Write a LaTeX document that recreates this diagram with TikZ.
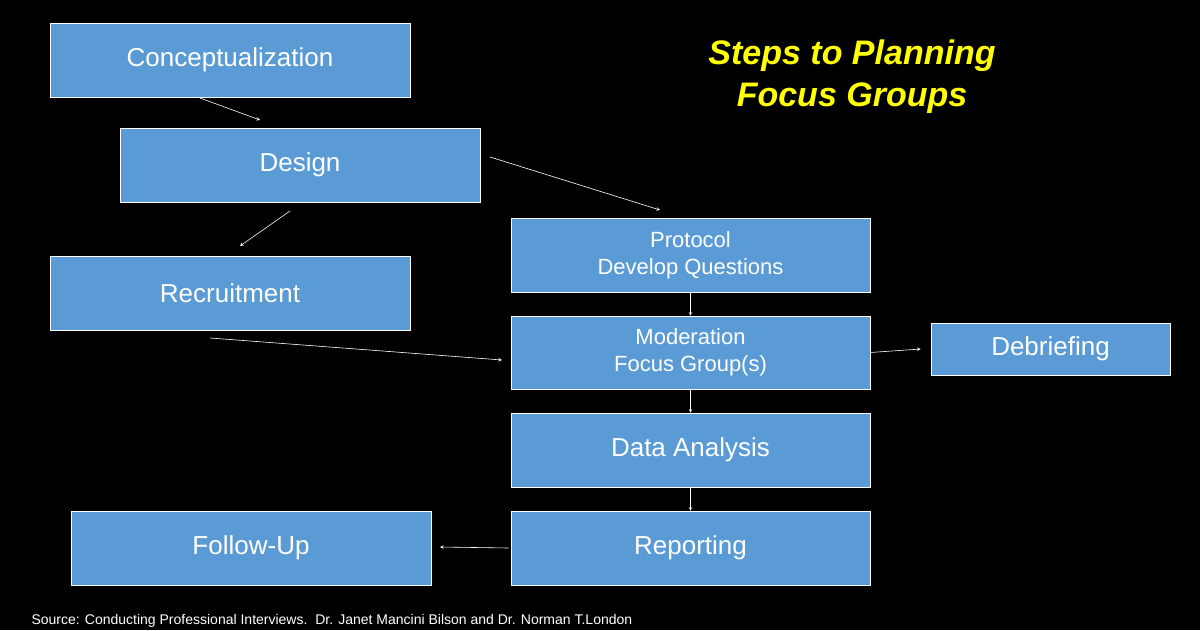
\documentclass[tikz,border=0pt]{standalone}
\usepackage{fontspec}
\setmainfont{Liberation Sans}
\definecolor{boxblue}{HTML}{5B9BD5}
\definecolor{titley}{HTML}{FFFF00}
\begin{document}
\begin{tikzpicture}[x=1pt,y=-1pt,
  box/.style={draw=white,line width=0.6pt,fill=boxblue,text=white,inner sep=0pt},
  big/.style={font=\fontsize{26}{30}\selectfont},
  small/.style={font=\fontsize{22}{27}\selectfont,align=center},
  arr/.style={draw=white,line width=0.6pt,-stealth}]
\fill[black] (0,0) rectangle (1200,630);
\useasboundingbox (0,0) rectangle (1200,630);
\newcommand\bx[6]{\node[box,#6,minimum width=#4-#2,minimum height=#5-#3] (#1) at ({(#2+#4)/2},{(#3+#5)/2}) {};}
\node[box,big,minimum width=360,minimum height=74] (c) at (230,60) {Conceptualization};
\node[box,big,minimum width=360,minimum height=74] (d) at (300,165) {Design};
\node[box,big,minimum width=360,minimum height=74] (r) at (230,293) {Recruitment};
\node[box,small,minimum width=359,minimum height=74] (p) at (690.5,255) {Protocol\\Develop Questions};
\node[box,small,minimum width=359,minimum height=73] (m) at (690.5,352.5) {Moderation\\Focus Group(s)};
\node[box,big,minimum width=239,minimum height=52] (db) at (1050.5,349) {Debriefing};
\node[box,big,minimum width=359,minimum height=74] (da) at (690.5,450) {Data Analysis};
\node[box,big,minimum width=359,minimum height=74] (rp) at (690.5,548) {Reporting};
\node[box,big,minimum width=360,minimum height=74] (f) at (251,548) {Follow-Up};
\node[text=titley,font=\fontsize{34}{42}\selectfont\bfseries\itshape,align=center] (t) at (852,77) {Steps to Planning\\Focus Groups};
\node[text=white,font=\fontsize{14}{16}\selectfont,anchor=west] (s) at (28,621) {Source: Conducting Professional Interviews.\ \ Dr. Janet Mancini Bilson and Dr. Norman T.London};
\coordinate (a1) at (200,98); \coordinate (b1) at (260,120);
\coordinate (a2) at (490,157); \coordinate (b2) at (660,210);
\coordinate (a3) at (290,211); \coordinate (b3) at (240,246);
\coordinate (a4) at (210,338); \coordinate (b4) at (502,360);
\coordinate (b9) at (440,547);
\draw[arr] (a1) -- (b1);
\draw[arr] (a2) -- (b2);
\draw[arr] (a3) -- (b3);
\draw[arr] (a4) -- (b4);
\draw[arr] (p) -- (m);
\draw[arr] (m.east) -- ([xshift=-10pt]db.west);
\draw[arr] (m) -- (da);
\draw[arr] (da) -- (rp);
\draw[arr] ([xshift=-2pt]rp.west) -- (b9);
\end{tikzpicture}
\end{document}
